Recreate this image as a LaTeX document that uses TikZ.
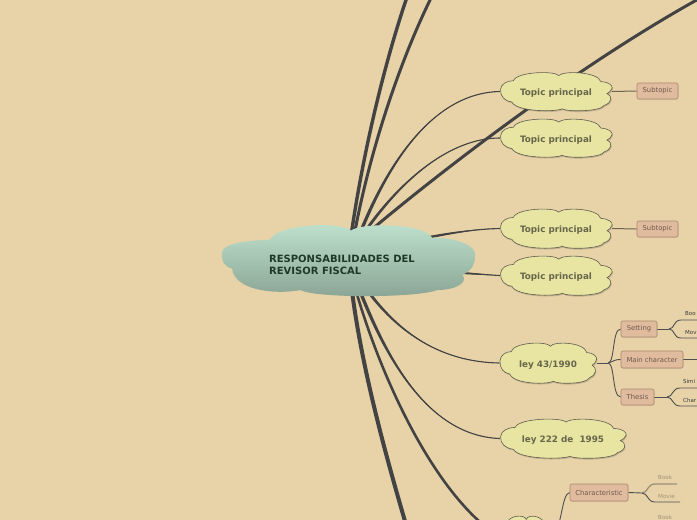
\documentclass[tikz,border=0pt]{standalone}
\usepackage{fontspec}
\setmainfont{DejaVu Sans}
\usetikzlibrary{calc,shadows}
\definecolor{bgc}{HTML}{E8D3A8}
\definecolor{branch}{HTML}{434343}
\definecolor{topicfill}{HTML}{E8E4A2}
\definecolor{topicline}{HTML}{5E5E50}
\definecolor{topictext}{HTML}{66664A}
\definecolor{subfill}{HTML}{E0BB9E}
\definecolor{subline}{HTML}{A8886C}
\definecolor{subtext}{HTML}{6E5A4E}
\definecolor{cloudtop}{HTML}{BFE2CE}
\definecolor{cloudbot}{HTML}{8AA494}
\definecolor{centertext}{HTML}{1E3926}
\definecolor{tinytext}{HTML}{3A3A3A}
\definecolor{greytext}{HTML}{A39377}
\definecolor{subconn}{HTML}{6E6450}
\definecolor{childc}{HTML}{4E4E4E}
\definecolor{greyline}{HTML}{9C9078}
\pgfdeclarelayer{bgl}\pgfdeclarelayer{lines}\pgfdeclarelayer{clouds}
\pgfsetlayers{bgl,lines,clouds,main}
\newcommand\brtaper[6]{%
  \fill[#6] ($(#1)+(#5)$) .. controls ($(#2)+(#5)$) and (#3) .. (#4) .. controls (#3) and ($(#2)-(#5)$) .. ($(#1)-(#5)$) -- cycle;%
  \draw[#6,line width=1.1pt] (#1) .. controls (#2) and (#3) .. (#4);}
\def\tcloud{(-0.99,-0.11) .. controls (-0.98,-0.40) and (-0.88,-0.56) .. (-0.76,-0.57) .. controls (-0.70,-1.05) and (-0.02,-1.10) .. (0.05,-0.84) .. controls (0.12,-1.10) and (0.75,-1.05) .. (0.80,-0.52) .. controls (0.95,-0.50) and (1.02,-0.30) .. (1.0,-0.16) .. controls (0.98,-0.02) and (0.95,0.06) .. (0.91,0.11) .. controls (1.02,0.25) and (1.0,0.60) .. (0.86,0.73) .. controls (0.80,1.06) and (0.20,1.08) .. (0.11,0.91) .. controls (0.0,1.08) and (-0.70,1.08) .. (-0.79,0.55) .. controls (-0.92,0.50) and (-1.0,0.25) .. (-0.99,-0.11) -- cycle}
\def\ccloud{(-1.0,-0.2) .. controls (-1.0,-0.45) and (-0.85,-0.55) .. (-0.62,-0.58) .. controls (-0.55,-1.05) and (-0.05,-1.1) .. (0.02,-0.84) .. controls (0.10,-1.08) and (0.60,-1.05) .. (0.66,-0.64) .. controls (0.85,-0.65) and (1.02,-0.40) .. (1.0,-0.12) .. controls (1.0,0.10) and (0.98,0.30) .. (0.90,0.42) .. controls (0.95,0.65) and (0.85,0.85) .. (0.70,0.86) .. controls (0.55,1.08) and (-0.25,1.10) .. (-0.38,0.86) .. controls (-0.60,1.0) and (-0.90,0.85) .. (-0.92,0.25) .. controls (-1.0,0.15) and (-1.0,0.0) .. (-1.0,-0.2) -- cycle}
\newcommand\topiccloud[3]{%
  \begin{pgfonlayer}{clouds}
  \fill[black,opacity=0.16,shift={($(#1.center)+(0.8,1.3)$)},xscale=#2,yscale=#3] \tcloud;
  \path[fill=topicfill,draw=topicline,line width=0.6pt,shift={(#1.center)},xscale=#2,yscale=#3] \tcloud;
  \end{pgfonlayer}}
\begin{document}
\begin{tikzpicture}[x=1pt,y=-1pt,
  topic/.style={rectangle, draw=none, text=topictext, text height=8.1pt, text depth=0pt,
    font=\fontsize{8.8}{10}\selectfont\bfseries, inner sep=0pt},
  centertxt/.style={text=centertext, font=\fontsize{10}{12.5}\selectfont\bfseries, align=left, inner sep=0pt},
  sub/.style={rectangle, rounded corners=2pt, draw=subline, line width=0.6pt, fill=subfill,
    text=subtext, font=\fontsize{6.8}{8}\selectfont, inner sep=0pt, minimum height=16pt,
    drop shadow={opacity=0.2, shadow xshift=0.5pt, shadow yshift=-0.8pt}},
  tinylab/.style={text=tinytext, font=\fontsize{5.5}{6}\selectfont, inner sep=0pt, anchor=base west},
  greylab/.style={text=greytext, font=\fontsize{5.6}{6}\selectfont, inner sep=0pt, anchor=base west},
  bigbr/.style={draw=branch, line cap=round},
  subc/.style={draw=subconn, line width=1pt},
  childl/.style={draw=childc, line width=0.9pt}]
\useasboundingbox (0,0) rectangle (697,520);
\clip (0,0) rectangle (697,520);
\begin{pgfonlayer}{bgl}
\fill[bgc] (0,0) rectangle (697,520);
\end{pgfonlayer}

% central cloud
\node[rectangle, draw=none, minimum width=253pt, minimum height=70pt, inner sep=0pt] (C) at (348.5,260) {};
\begin{pgfonlayer}{clouds}
\path[top color=cloudtop, bottom color=cloudbot, shift={(C.center)}, xscale=126.5, yscale=35] \ccloud;
\end{pgfonlayer}
\node[centertxt] (Ct) at (342,265) {RESPONSABILIDADES DEL\\REVISOR FISCAL};

% topic clouds
\node[topic, minimum width=112pt, minimum height=38pt] (T1) at (556,91.5) {Topic principal};
\node[topic, minimum width=112pt, minimum height=38pt] (T2) at (556,138) {Topic principal};
\node[topic, minimum width=112pt, minimum height=39pt] (T3) at (556,228.5) {Topic principal};
\node[topic, minimum width=112pt, minimum height=39pt] (T4) at (556,275.5) {Topic principal};
\node[topic, minimum width=97pt, minimum height=40pt] (L43) at (548,363) {ley 43/1990};
\node[topic, minimum width=126pt, minimum height=39pt] (L222) at (563,438.5) {ley 222 de\ \ 1995};
\node[topic, minimum width=50pt, minimum height=42pt] (B) at (525,537) {};
\topiccloud{T1}{56}{19}
\topiccloud{T2}{56}{19}
\topiccloud{T3}{56}{19.5}
\topiccloud{T4}{56}{19.5}
\topiccloud{L43}{48.5}{20}
\topiccloud{L222}{63}{19.5}
\topiccloud{B}{25}{21}

% subtopics
\node[sub, minimum width=41pt] (S1) at (657.5,91) {Subtopic};
\node[sub, minimum width=41pt] (S2) at (657.5,229) {Subtopic};
\node[sub, minimum width=36pt] (Set) at (639,329) {Setting};
\node[sub, minimum width=62pt, minimum height=17pt] (Main) at (652,359.5) {Main character};
\node[sub, minimum width=33pt] (Thes) at (637.5,397) {Thesis};
\node[sub, minimum width=58pt, minimum height=17pt] (Char) at (599,492.5) {Characteristic};

% tiny labels
\node[tinylab] (lb1) at (685,315) {Boo};
\node[tinylab] (lb2) at (685,334) {Mov};
\node[tinylab] (lb3) at (683,383.5) {Simi};
\node[tinylab] (lb4) at (683,402.5) {Char};
\node[greylab] (lb5) at (658,479.5) {Book};
\node[greylab] (lb6) at (658,498.5) {Movie};
\node[greylab] (lb7) at (658,519.3) {Book};

\begin{pgfonlayer}{lines}
\clip (0,0) rectangle (697,520);
\coordinate (rA) at (351,236);
\coordinate (rB) at (354,236);
\coordinate (rTR) at (364,236);
\coordinate (rT1) at (359,236);
\coordinate (rT2) at (362,236);
\coordinate (rT3) at (420,239);
\coordinate (rT4) at (462,273);
\coordinate (rL43) at (367,290);
\coordinate (rL222) at (360,291);
\coordinate (rD1) at (356,291);
\coordinate (rD2) at (352,291);
\coordinate (eA) at (408,-6);
\coordinate (eB) at (433,-6);
\coordinate (eTR) at (702,-3);
\coordinate (eD2) at (407,528);

% thick main branches
\draw[bigbr, line width=3.4pt] (rA) .. controls (362,160) and (382,70) .. (eA);
\draw[bigbr, line width=3pt] (rB) .. controls (370,150) and (400,60) .. (eB);
\draw[bigbr, line width=3pt] (rTR) .. controls (430,180) and (570,70) .. (eTR);
\draw[bigbr, line width=4pt] (rD2) .. controls (362,370) and (387,460) .. (eD2);
\draw[bigbr, line width=2.6pt] (rD1) .. controls (385,390) and (440,500) .. (B.west);

% tapered topic connectors
\brtaper{rT1}{385,170}{430,93}{T1.west}{1.8,0}{branch}
\brtaper{rT2}{400,180}{450,138}{T2.west}{1.8,0}{branch}
\brtaper{rT3}{455,232}{478,229}{T3.west}{0,1.3}{branch}
\brtaper{rT4}{478,274}{490,275}{T4.west}{0,1.0}{branch}
\brtaper{rL43}{398,332}{440,362}{L43.west}{1.8,0}{branch}
\brtaper{rL222}{388,362}{430,436}{L222.west}{1.8,0}{branch}

% subtopic connectors
\draw[subc] (T1.east) -- (S1.west);
\draw[subc] (T3.east) -- (S2.west);

% ley 43 fork
\coordinate (f43) at (608,363);
\draw[childl] (L43.east) -- (f43);
\draw[childl] (f43) .. controls (615,363) and (612,329) .. (Set.west);
\draw[childl] (f43) .. controls (615,361) and (614,359.5) .. (Main.west);
\draw[childl] (f43) .. controls (615,363) and (612,397) .. (Thes.west);

% setting fork
\coordinate (fS) at (669,329);
\coordinate (eS1) at (700,320);
\coordinate (eS2) at (700,338);
\draw[childl] (Set.east) -- (fS);
\draw[childl] (fS) .. controls (675,329) and (673,320) .. (681,320) -- (eS1);
\draw[childl] (fS) .. controls (675,329) and (673,338) .. (681,338) -- (eS2);
\coordinate (eM) at (700,359.5);
\draw[childl] (Main.east) -- (eM);
% thesis fork
\coordinate (fT) at (667,397);
\coordinate (eT1) at (700,388);
\coordinate (eT2) at (700,406);
\draw[childl] (Thes.east) -- (fT);
\draw[childl] (fT) .. controls (673,397) and (672,388) .. (680,388) -- (eT1);
\draw[childl] (fT) .. controls (673,397) and (672,406) .. (680,406) -- (eT2);

% characteristic
\coordinate (fC) at (642,493);
\coordinate (eC1) at (677,484);
\coordinate (eC2) at (680,502);
\draw[childl] (Char.east) -- (fC);
\draw[draw=greyline, line width=1.3pt] (fC) .. controls (648,493) and (647,484) .. (655,484) -- (eC1);
\draw[childl] (fC) .. controls (648,493) and (647,502) .. (655,502) -- (eC2);
\draw[childl] (B.east) .. controls (562,535) and (561,493) .. (Char.west);
\end{pgfonlayer}
\end{tikzpicture}
\end{document}
